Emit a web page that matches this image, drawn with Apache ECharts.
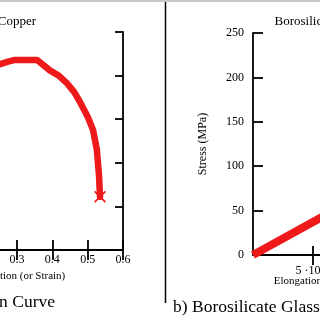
<!DOCTYPE html>
<html>
<head>
<meta charset="utf-8">
<script src="https://cdn.jsdelivr.net/npm/echarts@6/dist/echarts.min.js"></script>
<style>
html,body{margin:0;padding:0;background:#fff;}
#c{width:320px;height:320px;}
</style>
</head>
<body>
<div id="c"></div>
<script>
// Copper stress-strain (strain, stress MPa)
var copperStrain = [0.20, 0.252, 0.275, 0.294, 0.357, 0.393, 0.418, 0.442, 0.462, 0.478, 0.501, 0.515, 0.526, 0.532, 0.535];
var copperStress = [209, 213, 216, 218, 218, 206, 200, 191, 181, 170, 152, 138, 115, 86, 61];
// Borosilicate glass (strain, stress MPa)
var glassStrain = [0, 0.0058];
var glassStress = [0, 43.2];
// tick values / labels
var copperXTicks = [0.3, 0.4, 0.5, 0.6];
var glassXTicks = [0.005];
var glassXLabel = '5 ·10⁻³';
var stressTicks = [0, 50, 100, 150, 200, 250];

var SERIF = '"Liberation Serif","DejaVu Serif",serif';
var RED = '#ee1a1a';
var chart = echarts.init(document.getElementById('c'), null, {renderer: 'canvas'});

function pairs(xs, ys) { return xs.map(function (x, i) { return [x, ys[i]]; }); }

var copperData = pairs(copperStrain, copperStress).map(function (p, i, arr) {
  if (i === arr.length - 1) {
    return {value: p, symbol: 'path://M0,1 L1,0 L5,4 L9,0 L10,1 L6,5 L10,9 L9,10 L5,6 L1,10 L0,9 L4,5 Z', symbolSize: 12};
  }
  return {value: p, symbol: 'none'};
});

var axisLineStyle = {color: '#000', width: 1.8};
var labelStyle = {color: '#000', fontFamily: SERIF, fontSize: 12};

var option = {
  animation: false,
  backgroundColor: '#fff',
  grid: [
    {left: 0, right: 197, top: 32, bottom: 70, containLabel: false, outerBoundsMode: 'none'},
    {left: 253, right: 0, top: 33, bottom: 65, containLabel: false, outerBoundsMode: 'none'}
  ],
  xAxis: [
    {gridIndex: 0, type: 'value', position: 'bottom', min: 0.2519, max: 0.6,
      axisLine: {show: true, lineStyle: axisLineStyle},
      axisTick: {show: true, inside: true, length: 10, lineStyle: axisLineStyle, customValues: copperXTicks},
      splitLine: {show: false},
      axisLabel: Object.assign({margin: 4, customValues: copperXTicks, formatter: function (v) { return v.toFixed(1); }}, labelStyle)},
    {gridIndex: 0, type: 'value', position: 'top', min: 0.2519, max: 0.6,
      axisLine: {show: false},
      axisTick: {show: true, inside: true, length: 10, lineStyle: axisLineStyle, customValues: copperXTicks},
      splitLine: {show: false}, axisLabel: {show: false}},
    {gridIndex: 1, type: 'value', position: 'bottom', min: 0, max: 0.00558,
      axisLine: {show: true, onZero: false, lineStyle: axisLineStyle},
      axisTick: {show: true, inside: true, length: 9, lineStyle: axisLineStyle, customValues: glassXTicks},
      splitLine: {show: false},
      axisLabel: Object.assign({margin: 10, customValues: glassXTicks, formatter: function () { return glassXLabel; }}, labelStyle)},
    {gridIndex: 1, type: 'value', position: 'top', min: 0, max: 0.00558,
      axisLine: {show: false},
      axisTick: {show: true, inside: true, length: 10, lineStyle: axisLineStyle, customValues: glassXTicks},
      splitLine: {show: false}, axisLabel: {show: false}}
  ],
  yAxis: [
    {gridIndex: 0, type: 'value', position: 'left', min: 0, max: 250, interval: 50,
      axisLine: {show: false}, axisTick: {show: false}, splitLine: {show: false}, axisLabel: {show: false}},
    {gridIndex: 0, type: 'value', position: 'right', min: 0, max: 250, interval: 50,
      axisLine: {show: true, lineStyle: axisLineStyle},
      axisTick: {show: true, inside: true, length: 8, lineStyle: axisLineStyle},
      splitLine: {show: false}, axisLabel: {show: false}},
    {gridIndex: 1, type: 'value', position: 'left', min: 0, max: 250, interval: 50,
      axisLine: {show: true, onZero: false, lineStyle: axisLineStyle},
      axisTick: {show: true, inside: true, length: 10, lineStyle: axisLineStyle},
      splitLine: {show: false},
      axisLabel: Object.assign({margin: 9, formatter: function (v) { return String(stressTicks[Math.round(v / 50)]); }}, labelStyle),
      name: 'Stress (MPa)', nameLocation: 'middle', nameGap: 44, nameRotate: 90,
      nameTextStyle: {color: '#000', fontFamily: SERIF, fontSize: 12}}
  ],
  series: [
    {type: 'line', xAxisIndex: 0, yAxisIndex: 0, data: copperData,
      lineStyle: {color: RED, width: 6.5, join: 'round', cap: 'round'},
      itemStyle: {color: RED}, showSymbol: true, symbol: 'none', silent: true, clip: true},
    {type: 'line', xAxisIndex: 2, yAxisIndex: 2, data: pairs(glassStrain, glassStress),
      lineStyle: {color: RED, width: 8}, showSymbol: false, symbol: 'none', silent: true, clip: false}
  ],
  graphic: [
    {type: 'rect', shape: {x: 0, y: 0, width: 320, height: 2}, style: {fill: '#c8c8c8'}, silent: true},
    {type: 'line', shape: {x1: 165.5, y1: 2, x2: 165.5, y2: 303}, style: {stroke: '#000', lineWidth: 1.5}, silent: true},
    {type: 'text', x: 17, y: 22, style: {text: 'Copper', font: '13px ' + SERIF, fill: '#000', align: 'center', verticalAlign: 'middle'}},
    {type: 'text', x: 322, y: 22, style: {text: 'Borosilicate Glass', font: '13px ' + SERIF, fill: '#000', align: 'center', verticalAlign: 'middle'}},
    {type: 'text', x: 17, y: 276, style: {text: 'Elongation (or Strain)', font: '11px ' + SERIF, fill: '#000', align: 'center', verticalAlign: 'middle'}},
    {type: 'text', x: 322, y: 281, style: {text: 'Elongation (or Strain)', font: '11px ' + SERIF, fill: '#000', align: 'center', verticalAlign: 'middle'}},
    {type: 'text', x: 55, y: 302, style: {text: 'a) Copper Stress-Strain Curve', font: '17.5px ' + SERIF, fill: '#000', align: 'right', verticalAlign: 'middle'}},
    {type: 'text', x: 173, y: 307, style: {text: 'b) Borosilicate Glass Stress-Strain Curve', font: '17.5px ' + SERIF, fill: '#000', align: 'left', verticalAlign: 'middle'}}
  ]
};
chart.setOption(option);
</script>
</body>
</html>
